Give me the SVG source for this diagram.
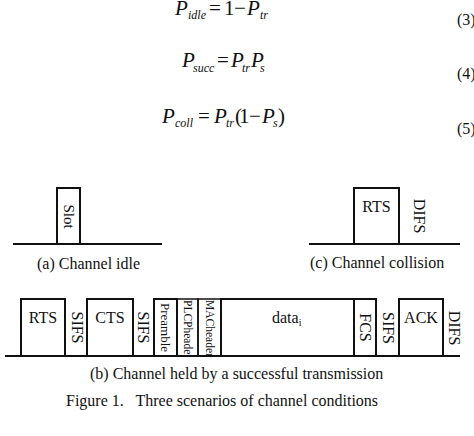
<svg xmlns="http://www.w3.org/2000/svg" width="474" height="436" viewBox="0 0 474 436">
<style>
text{font-family:"Liberation Serif","Times New Roman",serif;fill:#111}
.lbl{font-size:16px}
.eq{font-size:21px}
.it{font-style:italic}
.sub{font-size:12px;font-style:italic}
.box{fill:#fff;stroke:#111;stroke-width:2}
.thin{fill:none;stroke:#111;stroke-width:1.5}
.ax{stroke:#111;stroke-width:2;fill:none}
.rot{text-anchor:middle}
</style>
<defs>
<clipPath id="cpPre"><rect x="154" y="300" width="23" height="55"/></clipPath>
<clipPath id="cpPlcp"><rect x="177" y="300" width="21" height="55"/></clipPath>
<clipPath id="cpMac"><rect x="198" y="300" width="23" height="55"/></clipPath>
</defs>
<rect width="474" height="436" fill="#fff"/>

<g id="equations">
<g id="eq3">
<text class="eq it" x="175" y="15">P</text>
<text class="sub" x="188" y="19">idle</text>
<text class="eq" x="209" y="15">=</text>
<text class="eq" x="224" y="15">1</text>
<text class="eq" x="234" y="15">−</text>
<text class="eq it" x="247" y="15">P</text>
<text class="sub" x="260" y="19">tr</text>
<text class="lbl" x="457" y="25">(3)</text>
</g>
<g id="eq4">
<text class="eq it" x="182" y="67">P</text>
<text class="sub" x="193" y="72">succ</text>
<text class="eq" x="217" y="67">=</text>
<text class="eq it" x="231" y="67">P</text>
<text class="sub" x="242" y="72">tr</text>
<text class="eq it" x="251" y="67">P</text>
<text class="sub" x="260" y="72">s</text>
<text class="lbl" x="457" y="79">(4)</text>
</g>
<g id="eq5">
<text class="eq it" x="162" y="123">P</text>
<text class="sub" x="175" y="127">coll</text>
<text class="eq" x="198" y="123">=</text>
<text class="eq it" x="214" y="123">P</text>
<text class="sub" x="226" y="127">tr</text>
<text class="eq" x="235" y="123">(</text>
<text class="eq" x="239" y="123">1</text>
<text class="eq" x="249" y="123">−</text>
<text class="eq it" x="262" y="123">P</text>
<text class="sub" x="273" y="127">s</text>
<text class="eq" x="278" y="123">)</text>
<text class="lbl" x="457" y="134">(5)</text>
</g>
</g>

<g id="scenario-a">
<line class="ax" x1="13" y1="244" x2="162" y2="244"/>
<g id="slot">
<rect class="box" x="57" y="188" width="23" height="56"/>
<text class="lbl rot" transform="translate(68.5,216.5) rotate(90)" dy="0.33em" style="font-size:15px">Slot</text>
</g>
<text class="lbl" x="37" y="269">(a) Channel idle</text>
</g>

<g id="scenario-c">
<line class="ax" x1="309" y1="244" x2="460" y2="244"/>
<g id="rts-c">
<rect class="box" x="354" y="188" width="45" height="56"/>
<text class="lbl" x="376.5" y="212" text-anchor="middle">RTS</text>
</g>
<g id="difs-c">
<text class="lbl rot" transform="translate(419,216) rotate(90)" dy="0.33em">DIFS</text>
</g>
<text class="lbl" x="310" y="268">(c) Channel collision</text>
</g>

<g id="scenario-b">
<line class="ax" x1="5" y1="356" x2="460" y2="356"/>
<g id="rts-b">
<rect class="box" x="21" y="299" width="44" height="57"/>
<text class="lbl" x="43" y="323" text-anchor="middle">RTS</text>
</g>
<g id="sifs1"><text class="lbl rot" transform="translate(77,327.5) rotate(90)" dy="0.33em">SIFS</text></g>
<g id="cts">
<rect class="box" x="87" y="299" width="46" height="57"/>
<text class="lbl" x="110" y="323" text-anchor="middle">CTS</text>
</g>
<g id="sifs2"><text class="lbl rot" transform="translate(143,327.5) rotate(90)" dy="0.33em">SIFS</text></g>
<g id="preamble">
<rect class="box" x="154" y="299" width="23" height="57"/>
<g clip-path="url(#cpPre)">
<text transform="translate(165.5,303) rotate(90)" dy="0.33em" style="font-size:13px">Preamble</text>
</g>
</g>
<g id="plcpheader">
<rect class="thin" x="177" y="299" width="21" height="57"/>
<g clip-path="url(#cpPlcp)">
<text transform="translate(187.5,300) rotate(90)" dy="0.33em" style="font-size:11.5px">PLCPheader</text>
</g>
</g>
<g id="macheader">
<rect class="thin" x="198" y="299" width="23" height="57"/>
<g clip-path="url(#cpMac)">
<text transform="translate(209.5,300) rotate(90)" dy="0.33em" style="font-size:11.5px">MACheader</text>
</g>
</g>
<g id="data">
<rect class="box" x="221" y="299" width="133" height="57"/>
<text class="lbl" x="272" y="323">data<tspan style="font-size:10px" dy="3">i</tspan></text>
</g>
<g id="fcs">
<rect class="box" x="354" y="299" width="22" height="57"/>
<text class="lbl rot" transform="translate(365,327.5) rotate(90)" dy="0.33em">FCS</text>
</g>
<g id="sifs3"><text class="lbl rot" transform="translate(388,328) rotate(90)" dy="0.33em">SIFS</text></g>
<g id="ack">
<rect class="box" x="399" y="299" width="44" height="57"/>
<text class="lbl" x="421" y="323" text-anchor="middle">ACK</text>
</g>
<g id="difs-b"><text class="lbl rot" transform="translate(454,328) rotate(90)" dy="0.33em">DIFS</text></g>
<text class="lbl" x="90" y="379">(b) Channel held by a successful transmission</text>
</g>

<text class="lbl" x="66" y="406" xml:space="preserve">Figure 1.   Three scenarios of channel conditions</text>
</svg>
